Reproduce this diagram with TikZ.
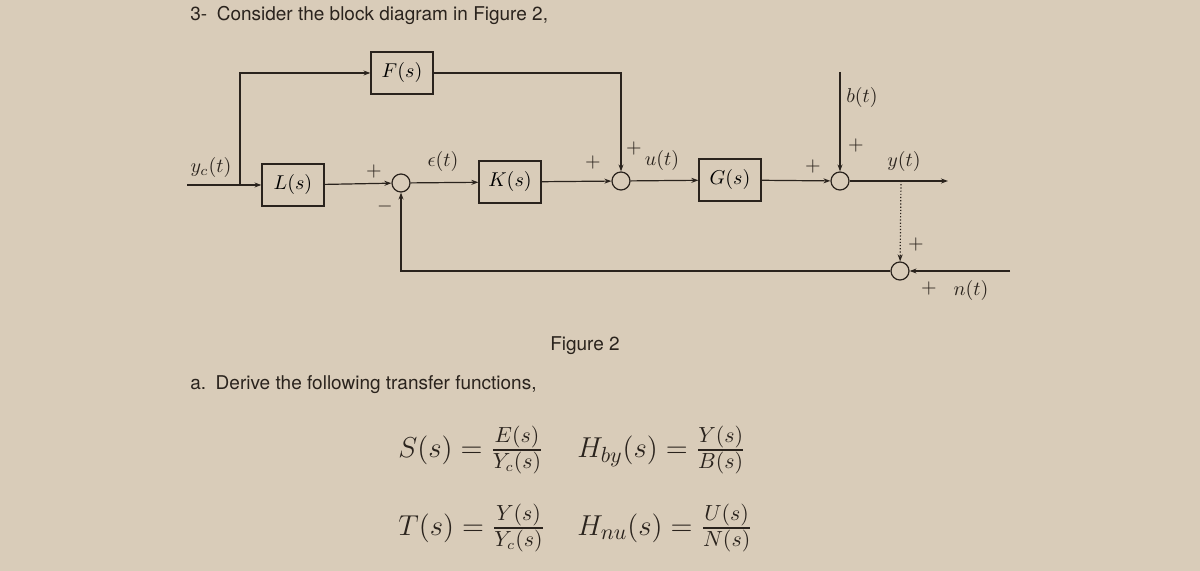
\documentclass[tikz,border=0pt]{standalone}
\usepackage{fontspec}
\usepackage{amsmath}
\newfontfamily\heros{TeX Gyre Heros}
\usetikzlibrary{arrows.meta}
\definecolor{paper}{HTML}{D9CCB9}
\definecolor{ink}{HTML}{2A231D}
\begin{document}
\begin{tikzpicture}[x=0.5pt,y=-0.5pt,
  blk/.style={draw=ink,line width=0.6pt,minimum width=31pt,minimum height=21pt,inner sep=0pt,font=\normalsize},
  sumnode/.style={draw=ink,circle,line width=0.6pt,minimum size=9pt,inner sep=0pt},
  sig/.style={draw=ink,line width=0.6pt,-{Stealth[length=3.5pt,width=2.5pt]}},
  wire/.style={draw=ink,line width=0.6pt},
  lbl/.style={text=ink,font=\normalsize,inner sep=0pt},
  txt/.style={text=ink,font=\heros\fontsize{9.5}{12}\selectfont,inner sep=0pt}]
\fill[paper] (0,0) rectangle (1200,571);
\useasboundingbox (0,0) rectangle (1200,571);
\node[txt,anchor=west] (title) at (190,15) {3-\enspace Consider the block diagram in Figure 2,};
% blocks
\node[blk] (F) at (402,73) {$F(s)$};
\node[blk] (L) at (293,185) {$L(s)$};
\node[blk] (K) at (510,182) {$K(s)$};
\node[blk] (G) at (730,180) {$G(s)$};
\node[sumnode] (s1) at (401,183) {};
\node[sumnode] (s2) at (621,181) {};
\node[sumnode] (s3) at (840,181) {};
\node[sumnode] (s4) at (900,271) {};
\coordinate (in) at (187,185);
\coordinate (br) at (240,185);
\coordinate (bt) at (840,72);
\coordinate (out) at (948,181);
\coordinate (yb) at (901,181);
\coordinate (nin) at (1010,271);
% connectors
\draw[sig] (in) -- (L);
\draw[sig] (br) |- (F);
\draw[sig] (F.east) -| (s2);
\draw[sig] (L) -- (s1);
\draw[sig] (s1) -- (K);
\draw[sig] (K) -- (s2);
\draw[sig] (s2) -- (G);
\draw[sig] (G) -- (s3);
\draw[sig] (bt) -- (s3);
\draw[sig] (s3) -- (out);
\draw[sig,densely dotted] (yb) -- (s4);
\draw[sig] (nin) -- (s4);
\draw[sig] (s4.west) -| (s1);
% labels
\node[lbl] at (211,168) {$y_c(t)$};
\node[lbl] at (374,172) {$+$};
\node[lbl] at (385,207) {$-$};
\node[lbl] at (443,162) {$\epsilon(t)$};
\node[lbl] at (593,163) {$+$};
\node[lbl] at (634,149) {$+$};
\node[lbl] at (662,161) {$u(t)$};
\node[lbl] at (813,167) {$+$};
\node[lbl] at (856,146) {$+$};
\node[lbl] at (862,98) {$b(t)$};
\node[lbl] at (904,162) {$y(t)$};
\node[lbl] at (916,245) {$+$};
\node[lbl] at (929,289) {$+$};
\node[lbl] at (971,291) {$n(t)$};
\node[txt] (fig) at (585,346) {Figure 2};
\node[txt,anchor=west] (qa) at (190,385) {a.\enspace Derive the following transfer functions,};
\node[text=ink,inner sep=0pt,anchor=west,font=\fontsize{15}{18}\selectfont] (eS) at (398,450) {$S(s)=\frac{E(s)}{Y_c(s)}$};
\node[text=ink,inner sep=0pt,anchor=west,font=\fontsize{15}{18}\selectfont] (eH) at (577,450) {$H_{by}(s)=\frac{Y(s)}{B(s)}$};
\node[text=ink,inner sep=0pt,anchor=west,font=\fontsize{15}{18}\selectfont] (eT) at (398,528) {$T(s)=\frac{Y(s)}{Y_c(s)}$};
\node[text=ink,inner sep=0pt,anchor=west,font=\fontsize{15}{18}\selectfont] (eN) at (577,528) {$H_{nu}(s)=\frac{U(s)}{N(s)}$};
\end{tikzpicture}
\end{document}
